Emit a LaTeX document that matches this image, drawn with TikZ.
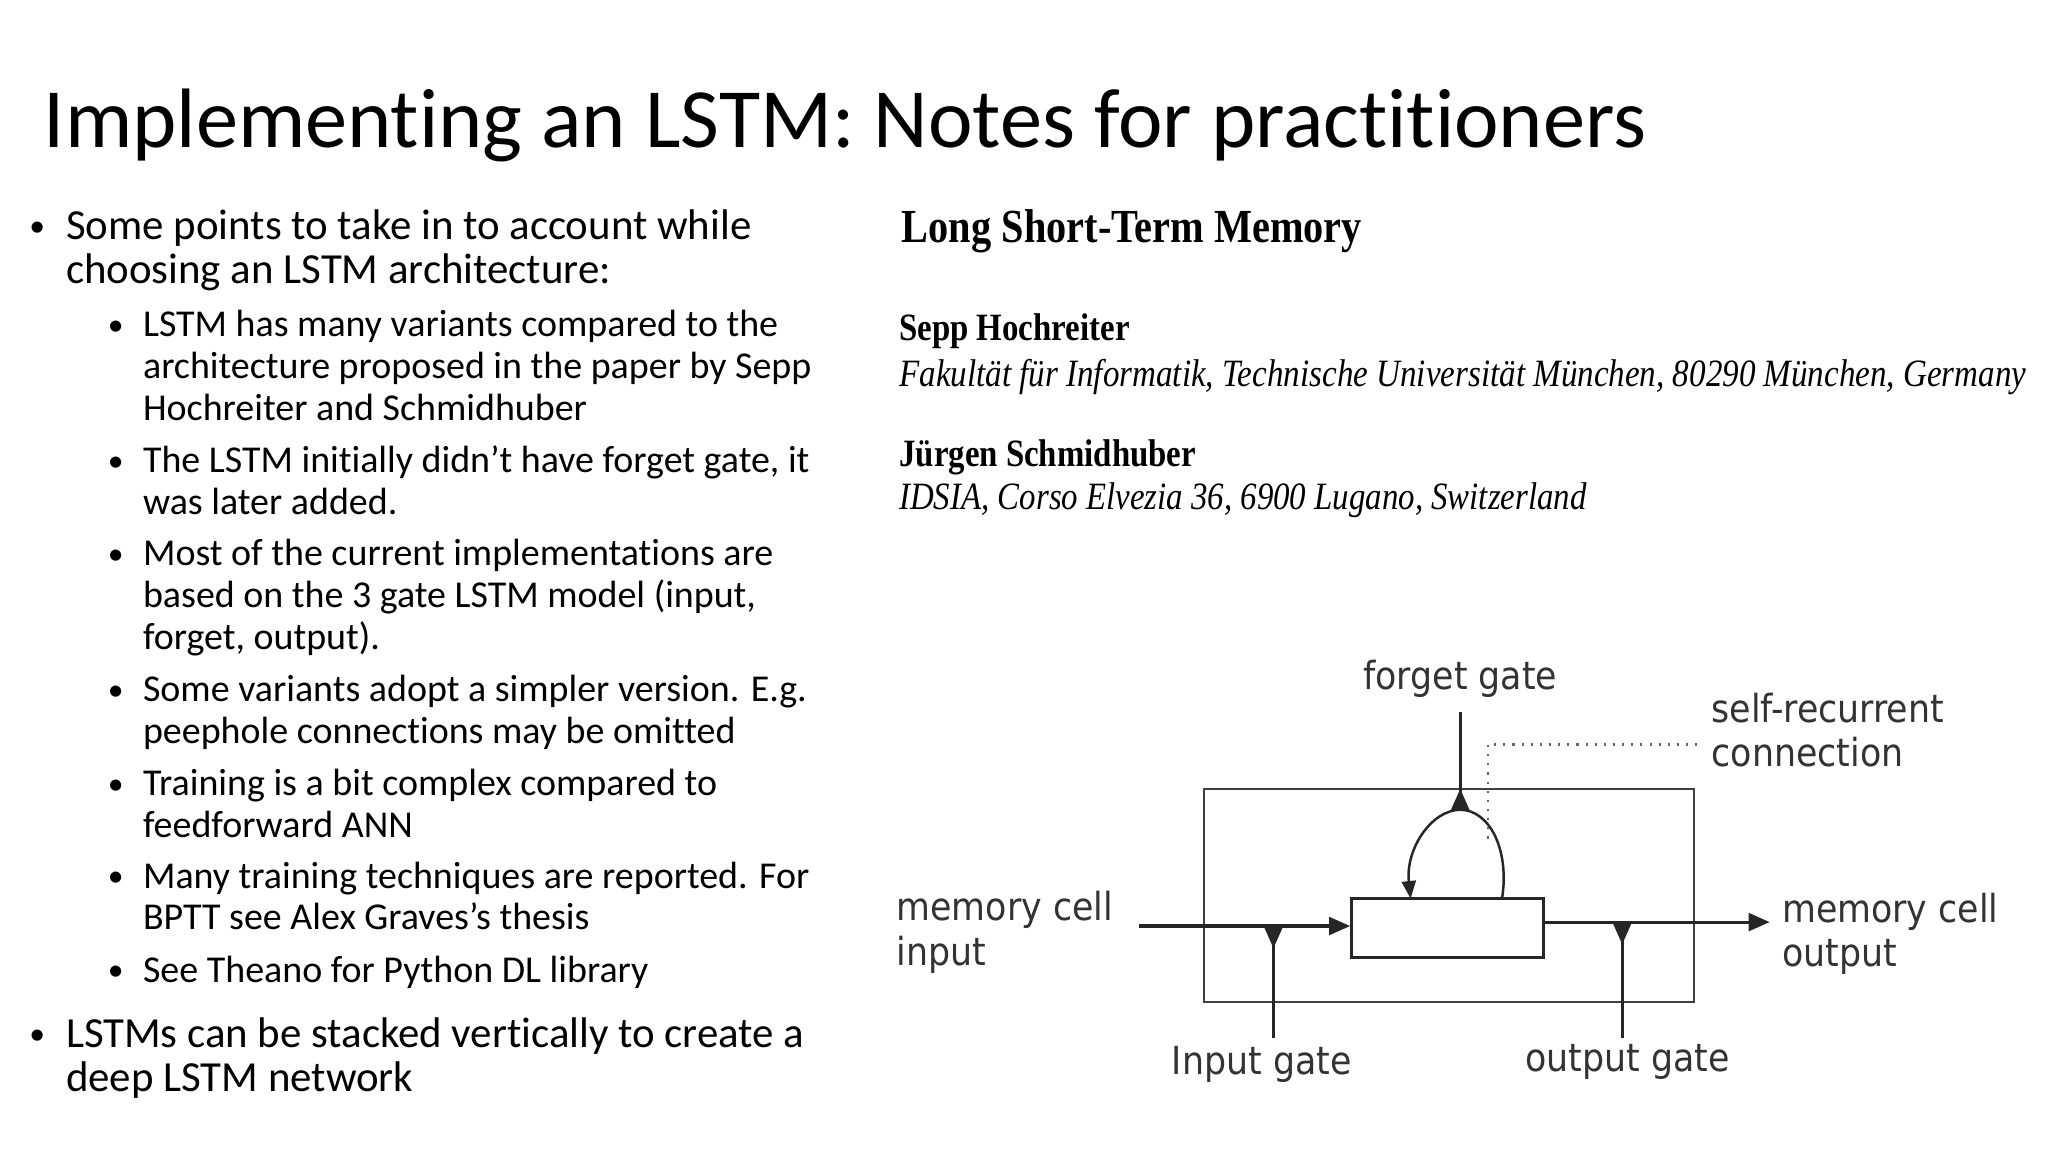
\documentclass[tikz,border=0pt]{standalone}
\usepackage{fontspec}
\setmainfont{Carlito}[Ligatures=NoCommon]
\newfontfamily\serifp{Liberation Serif}
\newfontfamily\dsans{DejaVu Sans Condensed}
\usetikzlibrary{arrows.meta}
\newcommand{\pscl}[1]{\scalebox{0.85}[1]{#1}}
\begin{document}
\begin{tikzpicture}[x=0.01306cm,y=-0.01306cm,
  ttl/.style={anchor=base west,inner sep=0,font=\fontsize{24}{28}\selectfont},
  b1/.style={anchor=base west,inner sep=0,font=\fontsize{12.2}{14}\selectfont},
  b2/.style={anchor=base west,inner sep=0,font=\fontsize{10.8}{13}\selectfont},
  bul/.style={anchor=base west,inner sep=0,font=\fontsize{9}{11}\selectfont},
  lab/.style={inner sep=0,font=\dsans\fontsize{11}{12}\selectfont,text=black!80},
  ln/.style={line width=0.9pt,black!85},
  tri/.style={-{Triangle[width=5pt,length=6pt,reversed]}},
]
\useasboundingbox[fill=white] (0,0) rectangle (1568,882);
\node[ttl] (title) at (33,113) {Implementing an LSTM: Notes for practitioners};
% left bullets
\node[bul] (d1) at (22,181) {•};
\node[b1] (t1) at (50,183) {Some points to take in to account while};
\node[b1] (t1b) at (50,217) {choosing an LSTM architecture:};
\foreach \y in {258,362,433,537,609,680,752}
  \node[bul] at (82,\y-1) {•};
\node[b2] (s1) at (109,258) {LSTM has many variants compared to the};
\node[b2] (s1b) at (109,290) {architecture proposed in the paper by Sepp};
\node[b2] (s1c) at (109,322) {Hochreiter and Schmidhuber};
\node[b2] (s2) at (109,362) {The LSTM initially didn’t have forget gate, it};
\node[b2] (s2b) at (109,394) {was later added.};
\node[b2] (s3) at (109,433) {Most of the current implementations are};
\node[b2] (s3b) at (109,465) {based on the 3 gate LSTM model (input,};
\node[b2] (s3c) at (109,497) {forget, output).};
\node[b2] (s4) at (109,537) {Some variants adopt a simpler version. E.g.};
\node[b2] (s4b) at (109,569) {peephole connections may be omitted};
\node[b2] (s5) at (109,609) {Training is a bit complex compared to};
\node[b2] (s5b) at (109,641) {feedforward ANN};
\node[b2] (s6) at (109,680) {Many training techniques are reported. For};
\node[b2] (s6b) at (109,712) {BPTT see Alex Graves’s thesis};
\node[b2] (s7) at (109,752) {See Theano for Python DL library};
\node[bul] (d2) at (22,800) {•};
\node[b1] (t2) at (50,802) {LSTMs can be stacked vertically to create a};
\node[b1] (t2b) at (50,836) {deep LSTM network};
% paper header
\node[anchor=base west,inner sep=0,font=\serifp\bfseries\fontsize{13.5}{16}\selectfont] (ptitle) at (690,186) {\pscl{Long Short-Term Memory}};
\node[anchor=base west,inner sep=0,font=\serifp\bfseries\fontsize{11}{13}\selectfont] (a1) at (688,261) {\pscl{Sepp Hochreiter}};
\node[anchor=base west,inner sep=0,font=\serifp\itshape\fontsize{11}{13}\selectfont] (f1) at (688,296) {\scalebox{0.855}[1]{Fakultät für Informatik, Technische Universität München, 80290 München, Germany}};
\node[anchor=base west,inner sep=0,font=\serifp\bfseries\fontsize{11}{13}\selectfont] (a2) at (688,357) {\pscl{Jürgen Schmidhuber}};
\node[anchor=base west,inner sep=0,font=\serifp\itshape\fontsize{11}{13}\selectfont] (f2) at (688,390) {\scalebox{0.85}[1]{IDSIA, Corso Elvezia 36, 6900 Lugano, Switzerland}};
% diagram
\node[draw=black!75,line width=0.7pt,minimum width=375*0.01306cm,minimum height=163*0.01306cm,inner sep=0] (outer) at (1109.5,685.5) {};
\node[draw=black!85,line width=0.9pt,minimum width=147*0.01306cm,minimum height=45*0.01306cm,inner sep=0] (cell) at (1108.5,710.5) {};
\coordinate (inS) at (872,709);
\coordinate (outE) at (1355,706);
\coordinate (igB) at (975,795);
\coordinate (igT) at (975,710);
\coordinate (ogB) at (1242,795);
\coordinate (ogT) at (1242,707);
\coordinate (fgT) at (1118,545);
\coordinate (fgB) at (1118,620);
\coordinate (lpL) at (1080,688);
\coordinate (lpR) at (1150,688);
\coordinate (dotA) at (1139,642);
\coordinate (dotB) at (1139,570);
\coordinate (dotC) at (1300,570);
\draw[ln,-{Triangle[width=5pt,length=6pt]}] (inS) -- (cell.west|-inS);
\draw[ln,-{Triangle[width=5pt,length=6pt]}] (cell.east|-outE) -- (outE);
\draw[ln,tri] (igB) -- (igT);
\draw[ln,tri] (ogB) -- (ogT);
\draw[ln,tri] (fgT) -- (fgB);
\draw[line width=0.7pt,black!85,-{Triangle[width=4pt,length=5pt]}] (lpR) .. controls (1156,650) and (1140,620) .. (fgB) .. controls (1096,620) and (1076,650) .. (lpL);
\draw[dotted,black!60,line width=0.6pt] (dotA) -- (dotB) -- (dotC);
\node[lab,anchor=base] (lf) at (1118,528) {forget gate};
\node[lab,anchor=base west] (ls1) at (1310,553) {self-recurrent};
\node[lab,anchor=base west] (ls2) at (1310,587) {connection};
\node[lab,anchor=base west] (li1) at (686,705) {memory cell};
\node[lab,anchor=base west] (li2) at (686,739) {input};
\node[lab,anchor=base west] (lo1) at (1364,706) {memory cell};
\node[lab,anchor=base west] (lo2) at (1364,740) {output};
\node[lab,anchor=base] (lig) at (966,823) {Input gate};
\node[lab,anchor=base] (log) at (1246,820) {output gate};
\end{tikzpicture}
\end{document}
